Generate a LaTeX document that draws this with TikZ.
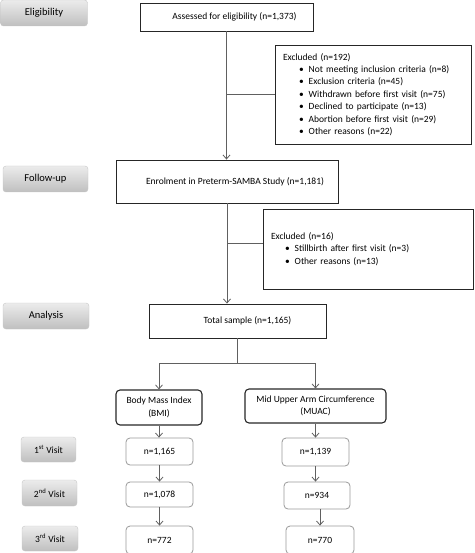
\documentclass[tikz,border=0pt]{standalone}
\usepackage{fontspec}
\setmainfont{Carlito}
\usetikzlibrary{arrows.meta,calc}
\begin{document}
\begin{tikzpicture}[x=1pt,y=-1pt,
  font=\fontsize{9.5}{12.4}\selectfont,
  stage/.style={rounded corners=3pt, top color=gray!15, bottom color=gray!50, draw=gray!45, inner sep=0pt, font=\fontsize{10.5}{12}\selectfont, text=black},
  vstage/.style={stage, font=\fontsize{9.5}{12}\selectfont},
  mainbox/.style={draw=black!85, line width=0.9pt, inner sep=0pt},
  exbox/.style={draw=black!85, line width=0.9pt, inner xsep=8pt, inner ysep=0pt, align=left},
  measbox/.style={draw=black!85, line width=1.1pt, rounded corners=4pt, inner sep=0pt, align=center},
  visitbox/.style={draw=gray!80, line width=0.8pt, rounded corners=4pt, inner sep=0pt},
  conn/.style={draw=gray!75!black, line width=0.8pt},
  arr/.style={conn, -{Straight Barb[length=4pt,width=7pt]}}
]
\useasboundingbox (0,0) rectangle (474,553);

% stage labels
\node[stage, minimum width=87pt, minimum height=26pt] (elig) at (44,13) {Eligibility};
\node[stage, minimum width=85pt, minimum height=26pt] (fu) at (45.5,179) {Follow-up};
\node[stage, minimum width=86pt, minimum height=26pt] (an) at (46,316) {Analysis};
\node[vstage, minimum width=55pt, minimum height=25pt] (v1l) at (48.5,449.5) {1\textsuperscript{st} Visit};
\node[vstage, minimum width=55pt, minimum height=26pt] (v2l) at (49.5,493) {2\textsuperscript{nd} Visit};
\node[vstage, minimum width=56pt, minimum height=25pt] (v3l) at (50,538.5) {3\textsuperscript{rd} Visit};

% main flow
\node[mainbox, minimum width=173pt, minimum height=28pt] (assessed) at (226.5,17) {\hspace*{16pt}Assessed for eligibility (n=1,373)};
\node[exbox, text width=180pt, minimum height=99pt] (excl1) at (373,94.5) {Excluded (n=192)\\
\hspace*{16pt}\textbullet\hspace{5pt}Not meeting inclusion criteria (n=8)\\
\hspace*{16pt}\textbullet\hspace{5pt}Exclusion criteria (n=45)\\
\hspace*{16pt}\textbullet\hspace{5pt}Withdrawn before first visit (n=75)\\
\hspace*{16pt}\textbullet\hspace{5pt}Declined to participate (n=13)\\
\hspace*{16pt}\textbullet\hspace{5pt}Abortion before first visit (n=29)\\
\hspace*{16pt}\textbullet\hspace{5pt}Other reasons (n=22)};
\node[mainbox, minimum width=222pt, minimum height=43pt] (enrol) at (227,181.5) {\hspace*{16pt}Enrolment in Preterm-SAMBA Study (n=1,181)};
\node[exbox, text width=194pt, minimum height=80pt] (excl2) at (368,249) {Excluded (n=16)\\
\hspace*{14pt}\textbullet\hspace{5pt}Stillbirth after first visit (n=3)\\
\hspace*{14pt}\textbullet\hspace{5pt}Other reasons (n=13)};
\node[mainbox, minimum width=177pt, minimum height=34pt] (total) at (237.5,321) {\hspace*{20pt}Total sample (n=1,165)};

\node[measbox, minimum width=86pt, minimum height=35pt] (bmi) at (159,407.5) {Body Mass Index\\(BMI)};
\node[measbox, minimum width=141pt, minimum height=34pt] (muac) at (315.5,406) {Mid Upper Arm Circumference\\(MUAC)};

\node[visitbox, minimum width=67pt, minimum height=27pt] (b1) at (159.5,451.5) {n=1,165};
\node[visitbox, minimum width=67pt, minimum height=25pt] (b2) at (159.5,494.5) {n=1,078};
\node[visitbox, minimum width=67pt, minimum height=28pt] (b3) at (159.5,540) {n=772};
\node[visitbox, minimum width=67pt, minimum height=28pt] (m1) at (315.5,452) {n=1,139};
\node[visitbox, minimum width=66pt, minimum height=27pt] (m2) at (317,495.5) {n=934};
\node[visitbox, minimum width=68pt, minimum height=28pt] (m3) at (320,540) {n=770};

% connectors
\draw[arr] (assessed.south) -- (assessed.south |- enrol.north);
\coordinate (br1) at (assessed.south |- excl1.west);
\draw[conn] (br1) -- (excl1.west);
\coordinate (br2) at ($(enrol.south)+(0,40)$);
\draw[conn] (br2) -- (br2 -| excl2.west);
\draw[arr] (enrol.south) -- (enrol.south |- total.north);
\coordinate (split) at ($(total.south)+(0,25)$);
\draw[conn] (total.south) -- (split);
\draw[arr] (split) -| (bmi.north);
\draw[arr] (split) -| (muac.north);
\draw[arr] (bmi.south) -- (bmi.south |- b1.north);
\draw[arr] (b1.south) -- (b1.south |- b2.north);
\draw[arr] (b2.south) -- (b2.south |- b3.north);
\draw[arr] (muac.south) -- (muac.south |- m1.north);
\draw[arr] (m1.south) -- (m1.south |- m2.north);
\draw[arr] (m2.south -| m3.north) -- (m3.north);
\end{tikzpicture}
\end{document}
